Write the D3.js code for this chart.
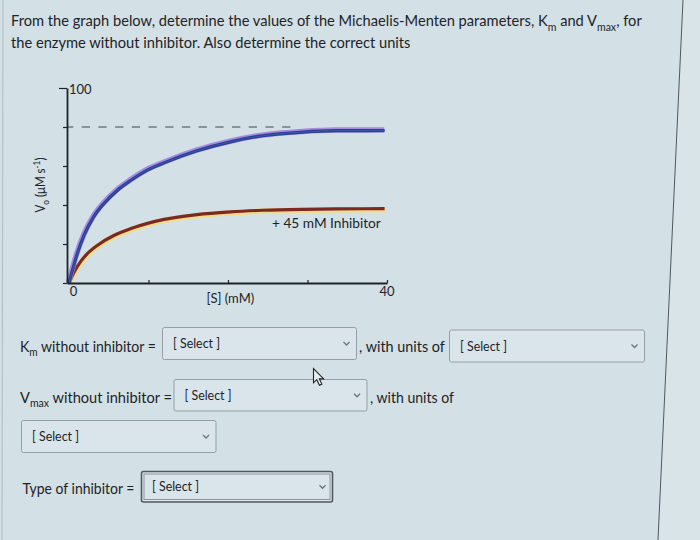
<!DOCTYPE html>
<html>
<head>
<meta charset="utf-8">
<script src="https://cdn.jsdelivr.net/npm/d3@7"></script>
<style>
  body { margin: 0; background: #d3e0e6; }
  svg { display: block; }
  text { font-family: Lato, "Open Sans", sans-serif; }
</style>
</head>
<body>
<svg id="chart"></svg>
<script>
// values: [S] in mM, V0 in uM/s
const substrateA  = [0, 1.05, 1.9, 3.1, 4.4, 6.1, 7.8, 9.85, 11.95, 16.1, 20.3, 24.3, 29.4, 33.6, 39.7]
const noInhibitor = [0, 15.1, 24.5, 33.9, 40.8, 47.6, 52.7, 57.9, 61.6, 67.8, 72.4, 75.5, 77.4, 78.1, 78.2]
const substrateB    = [0, 0.7, 1.5, 2.5, 3.6, 5.7, 7.8, 11.95, 16.1, 20.3, 24.3, 29.4, 33.6, 39.7]
const withInhibitor = [0, 6, 11.2, 15.8, 19.4, 24.5, 27.9, 32.6, 35.1, 36.5, 37.3, 37.8, 38, 38.1]
const vmaxLine = 80
const yTicks = [0, 20, 40, 60, 80, 100]
const xTicks = [10, 20, 30, 40]
const inhibitorLabel = '+ 45 mM Inhibitor'

const width = 700
const height = 540
const ink = '#1d2428'

let svg = d3.select('#chart')
            .attr('width', width)
            .attr('height', height)

svg.append('rect').attr('width', width).attr('height', height).attr('fill', '#d3e0e6')
// lighter strip right of the monitor edge
svg.append('path').attr('d', 'M683,0 L700,0 L700,540 L658,540 Z').attr('fill', '#d9e4e9')
svg.append('line').attr('x1', 683).attr('y1', 0).attr('x2', 658).attr('y2', 540)
   .attr('stroke', '#4e585d').attr('stroke-width', 1)
svg.append('line').attr('x1', 3).attr('y1', 0).attr('x2', 2).attr('y2', 540)
   .attr('stroke', '#9aa6ac').attr('stroke-width', 1).attr('opacity', 0.6)

// text with sub/superscripts, optionally squeezed to a width
function label(parent, x, y, parts, size, opts) {
    opts = opts || {}
    let base = `translate(${x},${y})` + (opts.rotate ? ` rotate(${opts.rotate})` : '')
    let g = parent.append('g').attr('transform', base)
    let t = g.append('text')
             .attr('font-size', size)
             .attr('fill', opts.color || ink)
             .attr('text-anchor', opts.anchor || 'start')
    let shift = 0
    parts.forEach(p => {
        let s = typeof p === 'string' ? { t: p } : p
        let target = s.sub ? size * 0.3 : s.sup ? -size * 0.38 : 0
        t.append('tspan')
         .attr('dy', target - shift)
         .attr('font-size', (s.sub || s.sup) ? size * 0.72 : size)
         .text(s.t)
        shift = target
    })
    if (opts.width) {
        let w = t.node().getComputedTextLength()
        g.attr('transform', base + ` scale(${opts.width / w},1)`)
    }
    return g
}

// ---- question text
label(svg, 11, 26, ['From the graph below, determine the values of the Michaelis-Menten parameters, K',
                    { t: 'm', sub: true }, ' and V', { t: 'max', sub: true }, ', for'], 15.5, { width: 631 })
label(svg, 11, 48, ['the enzyme without inhibitor. Also determine the correct units'], 15.5, { width: 400 })

// ---- chart
let x = d3.scaleLinear().domain([-0.25, 40]).range([67, 387])
let y = d3.scaleLinear().domain([0, 100]).range([283, 88])

let chart = svg.append('g')

chart.append('line')
     .attr('x1', x(-0.25)).attr('x2', x(28.8))
     .attr('y1', y(vmaxLine)).attr('y2', y(vmaxLine))
     .attr('stroke', '#6f7b82').attr('stroke-width', 1.3)
     .attr('stroke-dasharray', '8.3,8.4').attr('stroke-dashoffset', 2)

let line = d3.line()
             .x(d => x(d[0]))
             .y(d => y(d[1]))
             .curve(d3.curveMonotoneX)

let blue = d3.zip(substrateA, noInhibitor)
let red = d3.zip(substrateB, withInhibitor)

chart.append('path').attr('d', line(red)).attr('transform', 'translate(0.4,1)')
     .attr('fill', 'none').attr('stroke', '#f1dc86').attr('stroke-width', 5.5)
chart.append('path').attr('d', line(red))
     .attr('fill', 'none').attr('stroke', '#7a2a22').attr('stroke-width', 3.2)

chart.append('path').attr('d', line(blue)).attr('transform', 'translate(-0.4,-0.6)')
     .attr('fill', 'none').attr('stroke', '#a48be4').attr('stroke-width', 5.5)
chart.append('path').attr('d', line(blue))
     .attr('fill', 'none').attr('stroke', '#2b3d94').attr('stroke-width', 3.2)
chart.append('path').attr('d', line(blue))
     .attr('fill', 'none').attr('stroke', '#3f6e9e').attr('stroke-width', 0.9).attr('opacity', 0.7)

let yAxis = chart.append('g')
                 .attr('transform', `translate(${x(-0.25)},0)`)
                 .call(d3.axisLeft(y).tickValues(yTicks).tickSize(4).tickSizeOuter(0).tickFormat(''))
let xAxis = chart.append('g')
                 .attr('transform', `translate(0,${y(0)})`)
                 .call(d3.axisTop(x).tickValues(xTicks).tickSize(3).tickSizeOuter(0).tickFormat(''))

chart.selectAll('.domain').attr('stroke', ink).attr('stroke-width', 1.8)
chart.selectAll('.tick line').attr('stroke', ink).attr('stroke-width', 1.2)
yAxis.selectAll('.tick').filter(d => d === 100).select('line').attr('x2', -8)

label(chart, x(0), y(100) + 6, [String(yTicks[yTicks.length - 1])], 13)
label(chart, x(0) + 4.5, y(0) + 13, ['0'], 13, { anchor: 'middle' })
label(chart, x(40), y(0) + 13, ['40'], 13, { anchor: 'middle' })
label(chart, x(20.3), y(0) + 19.5, ['[S] (mM)'], 13, { anchor: 'middle' })
label(chart, 45, 185, ['V', { t: 'o', sub: true }, ' (\u03bcM s', { t: '-1', sup: true }, ')'], 13,
      { anchor: 'middle', rotate: -90, width: 55 })
label(chart, 272, 228, [inhibitorLabel], 13, { width: 109 })

// ---- answer fields
const fields = [
    { x: 162.5, y: 327.5, w: 194, h: 32 },
    { x: 449.5, y: 330, w: 195, h: 32 },
    { x: 174, y: 379.5, w: 193, h: 31.5 },
    { x: 21.5, y: 420.5, w: 194.5, h: 32 },
    { x: 141.5, y: 471.5, w: 191, h: 30.5, focus: true }
]

let form = svg.append('g')
fields.forEach(f => {
    form.append('rect')
        .attr('x', f.x).attr('y', f.y).attr('width', f.w).attr('height', f.h).attr('rx', 2)
        .attr('fill', '#d9e5ea')
        .attr('stroke', f.focus ? '#4f5a60' : '#949fa5').attr('stroke-width', f.focus ? 1.6 : 1)
    if (f.focus) {
        form.append('rect')
            .attr('x', f.x + 2.5).attr('y', f.y + 2.5).attr('width', f.w - 5).attr('height', f.h - 5)
            .attr('fill', 'none').attr('stroke', '#8d989e').attr('stroke-width', 1)
    }
    let cx = f.x + f.w - 10, cy = f.y + f.h / 2
    form.append('path')
        .attr('d', `M${cx - 3},${cy - 1.5} L${cx},${cy + 1.5} L${cx + 3},${cy - 1.5}`)
        .attr('fill', 'none').attr('stroke', '#6a757b').attr('stroke-width', 1.3)
    label(form, f.x + 10.5, f.y + f.h / 2 + 4.5, ['[ Select ]'], 13, { width: 47 })
})

label(form, 20, 352, ['K', { t: 'm', sub: true }, ' without inhibitor ='], 14.5, { width: 136 })
label(form, 359, 352, [', with units of'], 14.5, { width: 86 })
label(form, 20, 403, ['V', { t: 'max', sub: true }, ' without inhibitor ='], 14.5, { width: 152 })
label(form, 370, 403, [', with units of'], 14.5, { width: 84 })
label(form, 22.5, 494, ['Type of inhibitor ='], 14.5, { width: 112 })

// mouse pointer
form.append('path')
    .attr('d', 'M0,0 L0,13 L3,10.2 L5.4,15.2 L7.6,14.2 L5.3,9.4 L9.2,9.4 Z')
    .attr('transform', 'translate(313.5,368.5) scale(1.1)')
    .attr('fill', '#e6edf0').attr('stroke', '#1f2528').attr('stroke-width', 1)
</script>
</body>
</html>
